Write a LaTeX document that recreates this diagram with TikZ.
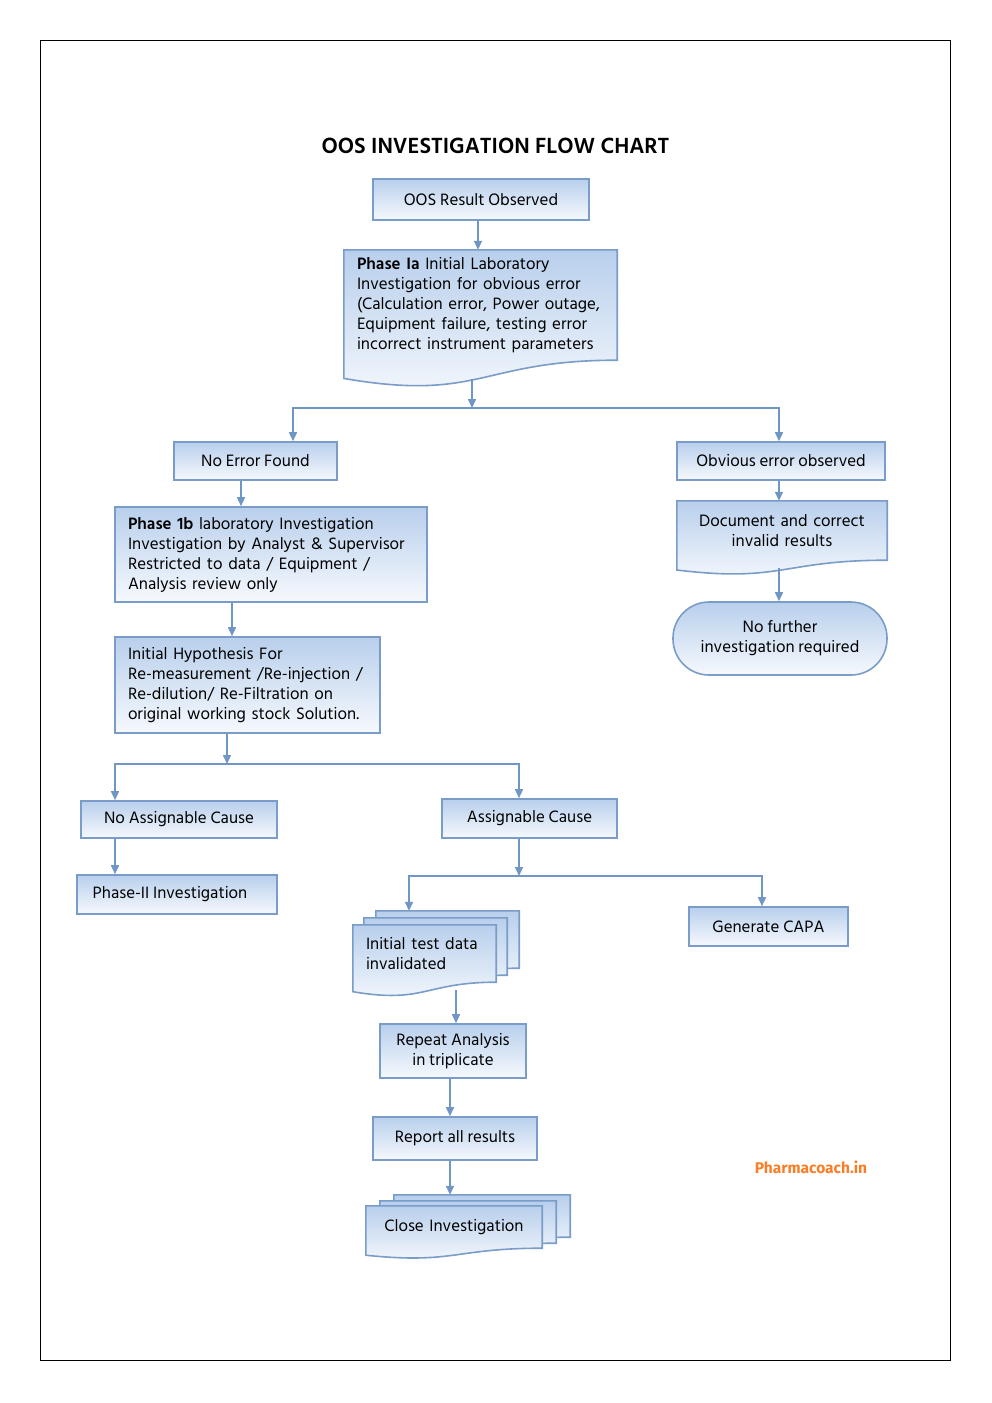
\documentclass[tikz,border=0pt]{standalone}
\usepackage{fontspec}
\setmainfont{Hind Siliguri}
\newfontfamily\markfont{Fira Sans}
\usepackage{tikz}
\usetikzlibrary{arrows.meta,calc,backgrounds}
\definecolor{boxline}{RGB}{122,156,200}
\definecolor{boxtop}{RGB}{184,207,236}
\definecolor{boxbot}{RGB}{246,249,253}
\definecolor{arrline}{RGB}{112,150,198}
\definecolor{markorange}{RGB}{250,125,40}
% flowchart "document" outline: flat top, wavy bottom below the node
\newcommand{\docshape}[2][]{%
  \path[docfill,#1] (#2.north west) -- (#2.north east) -- (#2.south east)
    .. controls (#2.south) and ($(#2.north)!1.38!(#2.south)$)
    .. ($(#2.north west)!1.165!(#2.south west)$) -- cycle;}

\begin{document}
\begin{tikzpicture}[
  x=1pt,y=-1pt,
  font=\fontsize{16.9}{20}\selectfont,
  box/.style={draw=boxline,line width=1.6pt,top color=boxtop,bottom color=boxbot,align=center,inner sep=0pt},
  tbox/.style={box,align=left,inner xsep=13pt},
  doc/.style={align=left,inner xsep=13pt,inner ysep=0pt},
  docfill/.style={draw=boxline,line width=1.6pt,top color=boxtop,bottom color=boxbot},
  term/.style={box,rounded corners=36pt},
  arr/.style={draw=arrline,line width=1.6pt,-{Triangle[length=9pt,width=8pt]}},
]
  \useasboundingbox (0,0) rectangle (991,1403);
  \draw[line width=0.8pt] (40,40) rectangle (950,1360);

  \node[font=\fontsize{22.5}{26}\selectfont\bfseries] (title) at (495.5,146) {OOS INVESTIGATION FLOW CHART};

  \node[box,minimum width=216pt,minimum height=41pt] (oos) at (481,199.5) {OOS Result Observed};
  \node[doc,text width=247pt,minimum height=110pt] (Ia) at (480.5,305)
    {\textbf{Phase Ia} Initial Laboratory\\Investigation for obvious error\\(Calculation error, Power outage,\\Equipment failure, testing error\\incorrect instrument parameters};

  \node[box,minimum width=163pt,minimum height=38pt] (noerr) at (255.5,461) {No Error Found};
  \node[box,minimum width=208pt,minimum height=38pt] (obv) at (781,461) {Obvious error observed};

  \node[tbox,text width=286pt,minimum height=95pt] (p1b) at (271,554.5)
    {\textbf{Phase 1b} laboratory Investigation\\Investigation by Analyst \& Supervisor\\Restricted to data / Equipment /\\Analysis review only};
  \node[doc,align=center,text width=184pt,minimum height=59pt] (docc) at (782,530.5)
    {Document and correct\\invalid results};
  \node[term,minimum width=214pt,minimum height=73pt] (nofur) at (780,638.5)
    {No further\\investigation required};

  \node[tbox,text width=239pt,minimum height=96pt] (hyp) at (247.5,685)
    {Initial Hypothesis For\\Re-measurement /Re-injection /\\Re-dilution/ Re-Filtration on\\original working stock Solution.};

  \node[box,minimum width=196pt,minimum height=37pt] (noass) at (179,819.5) {No Assignable Cause};
  \node[box,minimum width=175pt,minimum height=39pt] (ass) at (529.5,818.5) {Assignable Cause};
  \node[box,minimum width=200pt,minimum height=39pt] (ph2) at (177,894.5) {Phase-II Investigation\hspace*{14pt}};
  \node[box,minimum width=159pt,minimum height=39pt] (capa) at (768.5,926.5) {Generate CAPA};

  \node[doc,text width=117pt,minimum height=57pt] (itd) at (424.5,953.5) {Initial test data\\invalidated};
  \node[box,minimum width=146pt,minimum height=54pt] (rep) at (453,1051) {Repeat Analysis\\in triplicate};
  \node[box,minimum width=164pt,minimum height=43pt] (report) at (455,1138.5) {Report all results};
  \node[doc,align=center,text width=150pt,minimum height=42pt] (close) at (454,1227) {Close Investigation};

  \node[font=\fontsize{15.5}{18}\selectfont\markfont\bfseries,text=markorange] (mark) at (811,1167) {Pharmacoach.in};

  % wavy documents behind the text
  \begin{scope}[on background layer]
    \docshape{Ia}
    \docshape{docc}
    \docshape[transform canvas={xshift=23pt,yshift=14pt}]{itd}
    \docshape[transform canvas={xshift=11pt,yshift=7pt}]{itd}
    \docshape{itd}
    \docshape[transform canvas={xshift=28pt,yshift=11pt}]{close}
    \docshape[transform canvas={xshift=14pt,yshift=5pt}]{close}
    \docshape{close}
  \end{scope}

  \coordinate (jIa) at (472,408);
  \coordinate (jhyp) at (227,764);
  \coordinate (jass) at (519,876);

  \draw[arr] ([xshift=-3pt]oos.south) -- ([xshift=-3pt]oos.south |- Ia.north);
  \draw[arr] ([xshift=-8.5pt,yshift=-19pt]Ia.south) -- (jIa);
  \draw[arr] (jIa) -| ([xshift=37.5pt]noerr.north);
  \draw[arr] (jIa) -| ([xshift=-2pt]obv.north);
  \draw[arr] ([xshift=-14.5pt]noerr.south) -- ([xshift=-14.5pt]noerr.south |- p1b.north);
  \draw[arr] ([xshift=-39pt]p1b.south) -- ([xshift=-39pt]p1b.south |- hyp.north);
  \draw[arr] ([xshift=-20.5pt]hyp.south) -- (jhyp);
  \draw[arr] (jhyp) -| ([xshift=-64pt]noass.north);
  \draw[arr] (jhyp) -| ([xshift=-10.5pt]ass.north);
  \draw[arr] ([xshift=-64pt]noass.south) -- ([xshift=-64pt]noass.south |- ph2.north);
  \draw[arr] ([xshift=-10.5pt]ass.south) -- (jass);
  \draw[arr] (jass) -| ([xshift=-15.5pt,yshift=14pt]itd.north);
  \draw[arr] (jass) -| ([xshift=-6.5pt]capa.north);
  \draw[arr] ([xshift=31.5pt,yshift=-8pt]itd.south) -- ([xshift=3pt]rep.north);
  \draw[arr] ([xshift=-3pt]rep.south) -- ([xshift=-3pt]rep.south |- report.north);
  \draw[arr] ([xshift=-5pt]report.south) -- ([xshift=-5pt,yshift=11pt]report.south |- close.north);
  \draw[arr] ([xshift=-2pt]obv.south) -- ([xshift=-2pt]obv.south |- docc.north);
  \draw[arr] ([xshift=-3pt,yshift=-8pt]docc.south) -- ([xshift=-1pt]nofur.north);
\end{tikzpicture}
\end{document}
